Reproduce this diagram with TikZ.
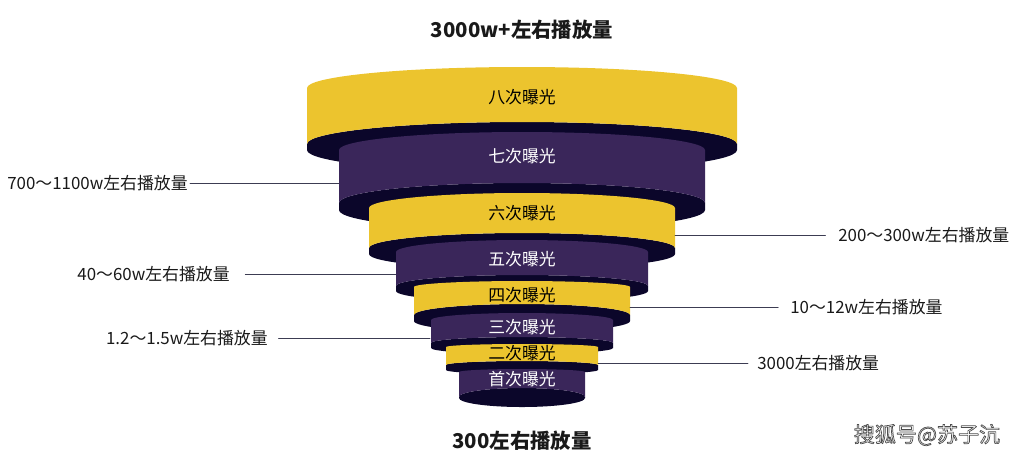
\documentclass[tikz,border=0pt]{standalone}
\usepackage{fontspec}
\setmainfont{Noto Sans CJK SC}
\definecolor{funyel}{RGB}{236,196,46}
\definecolor{funpur}{RGB}{58,38,90}
\definecolor{fundark}{RGB}{11,6,42}
\definecolor{leadc}{RGB}{60,60,82}
\tikzset{
  lab/.style={font=\fontsize{12}{14}\selectfont,inner sep=0pt,text=black!90},
  big/.style={font=\fontsize{14.5}{16}\selectfont\bfseries,inner sep=0pt,text=black!90},
  leader/.style={draw=leadc,line width=0.7pt}
}
\begin{document}
\begin{tikzpicture}[x=0.025cm,y=0.025cm,line join=round,line cap=round]
	\useasboundingbox (0,0) rectangle (1020,-456);
	% tiers from the top one down, each one in front of the one above
	\foreach \n/\rx/\yt/\ryt/\yb/\ryb/\d/\col/\tc/\ty/\txt in {
		8/215/88/21/144/22/6/funyel/black/97/八次曝光,
		7/183/150/18/203/20/7/funpur/white/156/七次曝光,
		6/153/208/15/248/15/6/funyel/black/213/六次曝光,
		5/126/252/12/286/11/5/funpur/white/259/五次曝光,
		4/108/287/6/315/11/6/funyel/black/295/四次曝光,
		3/91/320/7/343/6/5/funpur/white/327/三次曝光,
		2/76/347/3/365/4/5/funyel/black/353/二次曝光,
		1/63/372/3/397/9/1/funpur/white/379/首次曝光}
	{
		\fill[fundark] ({522-\rx},-\yb) -- ({522-\rx},{-\yb-\d})
			arc[start angle=180,end angle=360,x radius=\rx,y radius=\ryb]
			-- ({522+\rx},-\yb) arc[start angle=0,end angle=180,x radius=\rx,y radius=\ryb] -- cycle;
		\fill[\col] ({522-\rx},-\yb) -- ({522-\rx},-\yt)
			arc[start angle=180,end angle=0,x radius=\rx,y radius=\ryt]
			-- ({522+\rx},-\yb) arc[start angle=0,end angle=180,x radius=\rx,y radius=\ryb] -- cycle;
		\node[lab,text=\tc] (tier\n) at (522,-\ty) {\txt};
	}
	\node[big] (top) at (522,-30) {3000w+左右播放量};
	\node[big] (bottom) at (522,-441) {300左右播放量};
	% labels and their leaders
	\coordinate (e7) at (339,-183);
	\coordinate (e5) at (396,-274);
	\coordinate (e3) at (430,-338);
	\coordinate (e6) at (675,-235);
	\coordinate (e4) at (630,-307);
	\coordinate (e2) at (598,-363);
	\node[lab,anchor=east] (v7) at (188,-183) {700～1100w左右播放量};
	\node[lab,anchor=east] (v5) at (230,-274) {40～60w左右播放量};
	\node[lab,anchor=east] (v3) at (268,-338) {1.2～1.5w左右播放量};
	\node[lab,anchor=west] (v6) at (838,-235) {200～300w左右播放量};
	\node[lab,anchor=west] (v4) at (790,-307) {10～12w左右播放量};
	\node[lab,anchor=west] (v2) at (757,-363) {3000左右播放量};
	\draw[leader] ([xshift=1.5pt]v7.east) -- (e7);
	\draw[leader] ([xshift=11pt]v5.east) -- (e5);
	\draw[leader] ([xshift=7.5pt]v3.east) -- (e3);
	\draw[leader] ([xshift=-9pt]v6.west) -- (e6);
	\draw[leader] ([xshift=-8.5pt]v4.west) -- (e4);
	\draw[leader] ([xshift=-6.5pt]v2.west) -- (e2);
	\node[font=\fontsize{15}{17}\selectfont,text=white,inner sep=0pt] (mark) at (927,-435)
		{\special{pdf:code 0.3 0.3 0.3 RG 0.5 w 2 Tr}搜狐号@苏子沆\special{pdf:code 0 Tr}};
\end{tikzpicture}
\end{document}
